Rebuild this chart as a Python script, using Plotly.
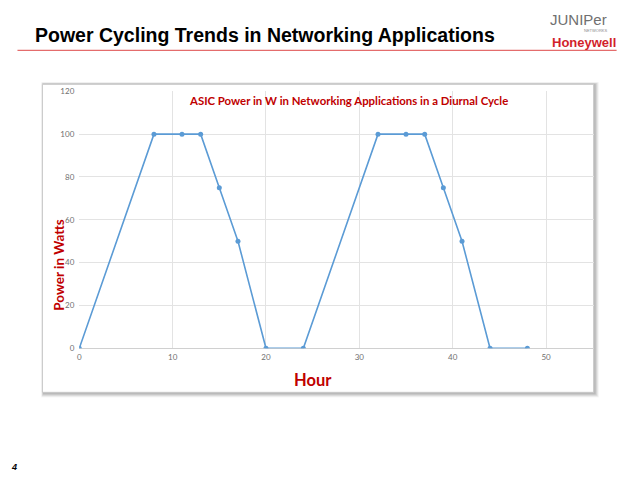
import plotly.graph_objects as go

hours = [0, 8, 11, 13, 15, 17, 20, 24, 32, 35, 37, 39, 41, 44, 48]
power = [0, 100, 100, 100, 75, 50, 0, 0, 100, 100, 100, 75, 50, 0, 0]
x_ticks = [0, 10, 20, 30, 40, 50]
y_ticks = [0, 20, 40, 60, 80, 100, 120]

W, H = 638, 478
# page-pixel -> paper fraction (compensating for page offset)
def px(x): return (x - 9.5) / W
def py(y): return 1 - ((y - 12.7) / 0.979) / H

fig = go.Figure()
fig.add_trace(go.Scatter(
    x=hours, y=power, mode="lines+markers",
    line=dict(color="#5B9BD5", width=1.6),
    marker=dict(color="#5B9BD5", size=5),
    showlegend=False, hoverinfo="skip",
))

font_chart = "Lato, 'Open Sans', sans-serif"
fig.update_layout(
    width=W, height=H, margin=dict(l=0, r=0, t=0, b=0),
    paper_bgcolor="white", plot_bgcolor="rgba(0,0,0,0)",
    xaxis=dict(domain=[px(79), px(595)], range=[0, 55.1], tickvals=x_ticks,
               showgrid=True, gridcolor="#E3E3E3", gridwidth=1,
               zeroline=False, showline=False, ticks="",
               tickfont=dict(family=font_chart, size=8, color="#707070"),
               ticklabelstandoff=3),
    yaxis=dict(domain=[py(348), py(91)], range=[0, 120], tickvals=y_ticks,
               showgrid=True, gridcolor="#E3E3E3", gridwidth=1,
               zeroline=True, zerolinecolor="#D0D0D0", zerolinewidth=1.2,
               showline=False, ticks="",
               tickfont=dict(family=font_chart, size=8, color="#707070"),
               ticklabelstandoff=4),
)

shapes = []
# shadow layers
for i, op in enumerate([0.08, 0.10, 0.12, 0.16]):
    d = 4 - i
    shapes.append(dict(type="rect", xref="paper", yref="paper",
                       x0=px(43 - d / 2), x1=px(596 + d), y0=py(393 + d), y1=py(84 - d / 2),
                       fillcolor=f"rgba(80,80,80,{op})", line=dict(width=0), layer="below"))
shapes.append(dict(type="rect", xref="paper", yref="paper",
                   x0=px(42), x1=px(595), y0=py(392), y1=py(84),
                   fillcolor="white", line=dict(color="#C8C8C8", width=1), layer="below"))
# red rule under title
shapes.append(dict(type="line", xref="paper", yref="paper",
                   x0=px(17), x1=px(618), y0=py(50), y1=py(50),
                   line=dict(color="#E46C6C", width=1.2)))
fig.update_layout(shapes=shapes)

def A(text, x, y, size, color, family, angle=0):
    return dict(text=text, x=px(x), y=py(y), xref="paper", yref="paper",
                xanchor="center", yanchor="middle", showarrow=False, textangle=angle,
                font=dict(family=family, size=size, color=color))

ann = [
    dict(text="<b>Power Cycling Trends in Networking Applications</b>", x=px(33), y=py(35),
         xref="paper", yref="paper", xanchor="left", yanchor="middle", showarrow=False,
         font=dict(family="Liberation Sans, Arial", size=19.5, color="black")),
    A("JUNIPer", 580, 19, 15, "#707070", "Liberation Sans, Arial"),
    A("NETWORKS", 597, 30, 4, "#8A8A8A", "Liberation Sans, Arial"),
    A("<b>Honeywell</b>", 585, 42, 13, "#D21F2B", "Liberation Sans, Arial"),
    A("<b>ASIC Power in W in Networking Applications in a Diurnal Cycle</b>", 349, 100, 11.4,
      "#C00000", font_chart),
    A("<b>Power in Watts</b>", 59, 265, 13.5, "#C00000", font_chart, angle=-90),
    A("<b>Hour</b>", 313, 380, 16.5, "#C00000", font_chart),
    A("<b><i>4</i></b>", 14, 467, 9, "black", "Liberation Sans, Arial"),
]
fig.update_layout(annotations=ann)

fig.write_html("out.html")
